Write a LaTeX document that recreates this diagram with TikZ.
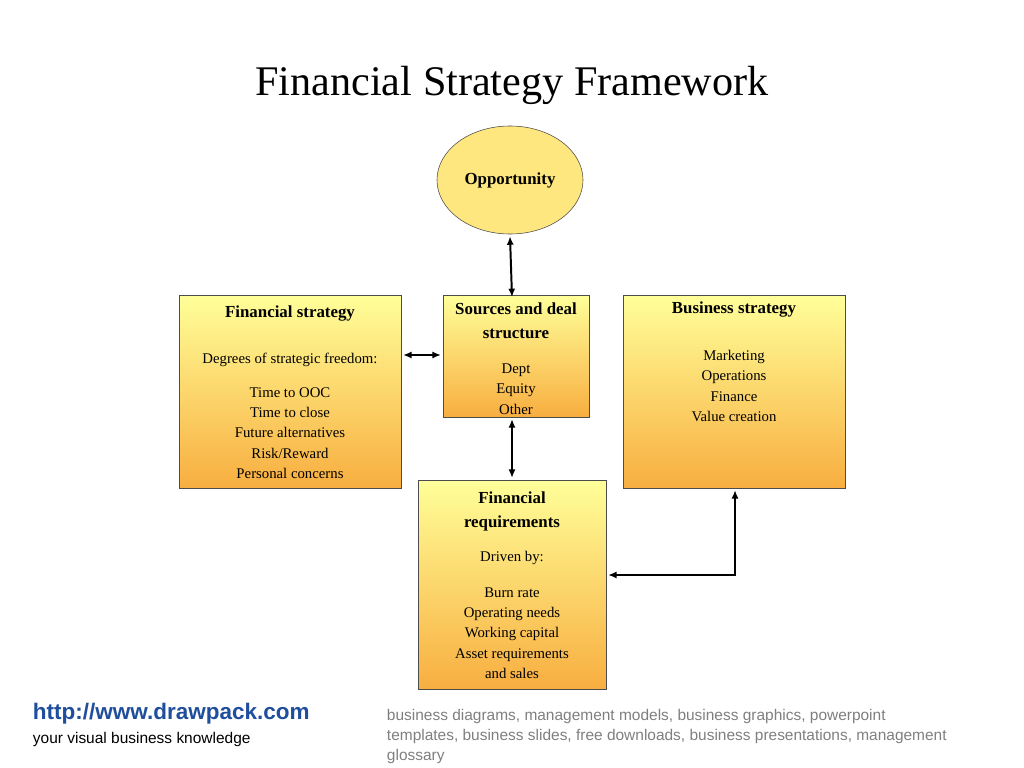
\documentclass[tikz,border=0pt]{standalone}
\usepackage{fontspec}
\setmainfont{Liberation Serif}
\setsansfont{Liberation Sans}
\usetikzlibrary{positioning,shapes.geometric,arrows.meta}
\definecolor{boxtop}{HTML}{FFFF99}
\definecolor{boxbot}{HTML}{F8AE40}
\definecolor{linkblue}{HTML}{1F4E9C}
\definecolor{footgray}{HTML}{7F7F7F}
\tikzset{
  framebox/.style={draw=black!70,line width=0.5pt,top color=boxtop,bottom color=boxbot,inner sep=0pt},
  head/.style={font=\bfseries\fontsize{12}{17}\selectfont,align=center},
  body/.style={font=\fontsize{10.5}{14.4}\selectfont,align=center},
  link/.style={{Latex[length=6pt,width=5pt]}-{Latex[length=6pt,width=5pt]},line width=1.4pt}
}
\begin{document}
\begin{tikzpicture}[x=0.025cm,y=-0.025cm]
\useasboundingbox (0,0) rectangle (1024,768);
% title
\node[font=\fontsize{30}{34}\selectfont] (title) at (512,85) {Financial Strategy Framework};
% opportunity
\node[ellipse,draw=black!70,fill=boxtop!70!boxbot,minimum width=146\pgflinewidth,inner sep=0pt,
      minimum width=3.65cm,minimum height=2.7cm] (opp) at (510,180) {};
\node[head] at (opp.center) {Opportunity};
% boxes
\draw[framebox] (179,295) rectangle (401,488);
\coordinate (fsr) at (401,355);
\node[head] at (290,314) {Financial strategy};
\node[body] at (290,360) {Degrees of strategic freedom:};
\node[body] at (290,433) {Time to OOC\\Time to close\\Future alternatives\\Risk/Reward\\Personal concerns};
\draw[framebox] (443,295) rectangle (589,417);
\coordinate (srcl) at (443,355);
\coordinate (srct) at (512,295);
\coordinate (srcb) at (512,417);
\node[head] at (516,321) {Sources and deal\\structure};
\node[body] at (516,389) {Dept\\Equity\\Other};
\draw[framebox] (623,295) rectangle (845,488);
\coordinate (bsb) at (735,488);
\node[head] at (734,310) {Business strategy};
\node[body] at (734,386) {Marketing\\Operations\\Finance\\Value creation};
\draw[framebox] (418,480) rectangle (606,689);
\coordinate (frt) at (512,480);
\coordinate (frr) at (606,575);
\node[head] at (512,511) {Financial\\requirements};
\node[body] at (512,558) {Driven by:};
\node[body] at (512,633) {Burn rate\\Operating needs\\Working capital\\Asset requirements\\and sales};
% connectors
\draw[link] (opp.south) ++(0,2) -- ([yshift=-1.5pt]srct);
\draw[link] ([xshift=1.5pt]fsr) -- ([xshift=-1.5pt]srcl);
\draw[link] ([yshift=-1.5pt]srcb) -- ([yshift=1.5pt]frt);
\draw[link] ([xshift=1.5pt]frr) -| ([yshift=-1.5pt]bsb);
% footer
\node[font=\sffamily\bfseries\fontsize{16}{18}\selectfont,text=linkblue,anchor=west] (url) at (28,714) {http://www.drawpack.com};
\node[font=\sffamily\fontsize{11}{13}\selectfont,anchor=west] (tag) at (28,739) {your visual business knowledge};
\node[font=\sffamily\fontsize{11}{14.4}\selectfont,text=footgray,anchor=north west,align=left] (keys) at (382,704)
  {business diagrams, management models, business graphics, powerpoint\\templates, business slides, free downloads, business presentations, management\\glossary};
\end{tikzpicture}
\end{document}
